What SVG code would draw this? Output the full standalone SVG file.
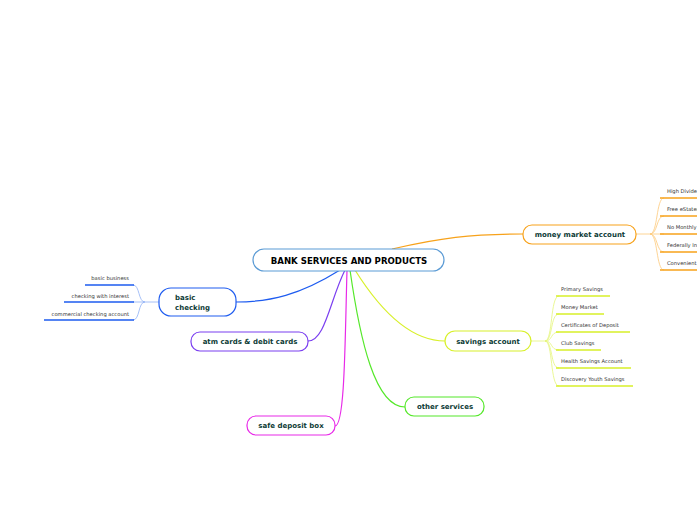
<svg xmlns="http://www.w3.org/2000/svg" width="697" height="520" viewBox="0 0 697 520">
<style>
text{font-family:"DejaVu Sans",Verdana,sans-serif}
.t{font-size:7px;font-weight:bold;fill:#0d3b36}
.s{font-size:5.2px;fill:#333}
.n{fill:#fff;stroke-width:1.2}
.c{fill:none;stroke-width:1.2}
.b{fill:none;stroke-width:0.8}
</style>
<rect width="697" height="520" fill="#fff"/>
<g id="connectors">
<path class="c" stroke="#f7a21b" d="M392,249 C440,238 470,234 523,234"/>
<path class="c" stroke="#d8f02a" d="M355,270 C380,310 410,341 445,341"/>
<path class="c" stroke="#55e82a" d="M350,270 C360,340 375,407 405,407"/>
<path class="c" stroke="#e82ae8" d="M347,270 C345,340 345,426 335,426"/>
<path class="c" stroke="#7b3ff0" d="M345,270 C330,300 325,341 308,341"/>
<path class="c" stroke="#1e5cf0" d="M340,270 C300,295 270,302 236,302"/>
<g stroke="#f7a21b">
<path class="b" d="M636,234 H650 M650,234 C658,234 656,198 664,198 M650,234 C658,234 656,216 664,216 M650,234 H664 M650,234 C658,234 656,252 664,252 M650,234 C658,234 656,270 664,270" stroke="#fcc97a"/>
<path d="M660,198 H697 M660,216 H697 M660,234 H697 M660,252 H697 M660,270 H697" stroke-width="1.5"/>
</g>
<g>
<path class="b" stroke="#e4f57a" d="M531,341 H545 M545,341 C553,341 550,296 559,296 M545,341 C553,341 550,314 559,314 M545,341 C553,341 550,332 559,332 M545,341 C553,341 550,350 559,350 M545,341 C553,341 550,368 559,368 M545,341 C553,341 550,386 559,386"/>
<path stroke="#d8f02a" stroke-width="1.5" d="M556,296 H610 M556,314 H604 M556,332 H630 M556,350 H601 M556,368 H631 M556,386 H633"/>
</g>
<g>
<path class="b" stroke="#8fb0f5" d="M159,302 H145 M145,302 C138,302 140,285 133,285 M145,302 C138,302 140,320 133,320 M145,302 H133"/>
<path stroke="#1e5cf0" stroke-width="1.5" d="M85,285 H134 M64,302 H134 M44,320 H134"/>
</g>
</g>
<g id="central"><rect class="n" x="253" y="249" width="191" height="22" rx="11" stroke="#5b9bd5"/><text x="349" y="264" text-anchor="middle" style="font-size:8.6px;font-weight:bold;fill:#000">BANK SERVICES AND PRODUCTS</text></g>
<g id="money"><rect class="n" x="523" y="225" width="113" height="19" rx="9" stroke="#f7a21b"/><text class="t" x="580" y="237" text-anchor="middle">money market account</text>
<text class="s" x="667" y="193">High Dividends</text><text class="s" x="667" y="211">Free eStatements</text><text class="s" x="667" y="229">No Monthly Fees</text><text class="s" x="667" y="247">Federally Insured</text><text class="s" x="667" y="265">Convenient Access</text></g>
<g id="savings"><rect class="n" x="445" y="331" width="86" height="20" rx="10" stroke="#d8f02a"/><text class="t" x="488" y="344" text-anchor="middle">savings account</text>
<text class="s" x="561" y="291">Primary Savings</text><text class="s" x="561" y="309">Money Market</text><text class="s" x="561" y="327">Certificates of Deposit</text><text class="s" x="561" y="345">Club Savings</text><text class="s" x="561" y="363">Health Savings Account</text><text class="s" x="561" y="381">Discovery Youth Savings</text></g>
<g id="other"><rect class="n" x="405" y="397" width="79" height="19" rx="9" stroke="#55e82a"/><text class="t" x="445" y="409" text-anchor="middle">other services</text></g>
<g id="safe"><rect class="n" x="247" y="416" width="88" height="19" rx="9" stroke="#e82ae8"/><text class="t" x="291" y="428" text-anchor="middle">safe deposit box</text></g>
<g id="atm"><rect class="n" x="191" y="332" width="117" height="19" rx="9" stroke="#7b3ff0"/><text class="t" x="250" y="344" text-anchor="middle">atm cards &amp; debit cards</text></g>
<g id="checking"><rect class="n" x="159" y="288" width="77" height="28" rx="12" stroke="#1e5cf0"/><text class="t" x="175" y="300">basic</text><text class="t" x="175" y="310">checking</text>
<text class="s" x="129" y="280" text-anchor="end">basic business</text><text class="s" x="129" y="298" text-anchor="end">checking with interest</text><text class="s" x="129" y="316" text-anchor="end">commercial checking account</text></g>
</svg>
